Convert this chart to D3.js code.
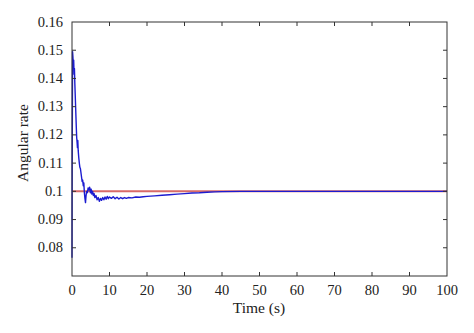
<!DOCTYPE html>
<html><head><meta charset="utf-8">
<script src="https://cdn.jsdelivr.net/npm/d3@7"></script>
<style>body{margin:0;background:#fff}svg{display:block}text{font-family:"Liberation Serif","DejaVu Serif",serif;fill:#222}</style>
</head><body><svg id="c" width="474" height="333"></svg>
<script>
const xTicks=[0,10,20,30,40,50,60,70,80,90,100];
const yTicks=[0.08,0.09,0.1,0.11,0.12,0.13,0.14,0.15,0.16];
const yTickLabels=["0.08","0.09","0.1","0.11","0.12","0.13","0.14","0.15","0.16"];
const refTime=[0,100];
const refValue=[0.1,0.1];
const time=[0,0.05,0.15,0.25,0.35,0.45,0.55,0.65,0.75,0.85,0.95,1.05,1.15,1.25,1.35,1.45,1.55,1.65,1.8,1.95,2.1,2.25,2.4,2.55,2.7,2.85,3.0,3.15,3.3,3.45,3.6,3.75,3.9,4.1,4.3,4.5,4.7,4.9,5.1,5.3,5.5,5.7,5.9,6.1,6.4,6.7,7.0,7.3,7.6,7.9,8.2,8.5,8.8,9.1,9.4,9.7,10,10.5,11,11.5,12,12.5,13,13.5,14,14.5,15,16,17,18,19,20,22,24,26,28,30,32,34,36,38,40,45,50,55,60,70,80,90,100];
const rate=[0.0765,0.110,0.1495,0.1475,0.1445,0.1465,0.1415,0.1435,0.1385,0.1345,0.1305,0.1265,0.1225,0.1190,0.1175,0.1155,0.1180,0.1145,0.1120,0.1100,0.1085,0.1080,0.1065,0.1050,0.1035,0.1040,0.1020,0.1030,0.0995,0.0975,0.0960,0.0985,0.1000,0.0995,0.1012,0.1005,0.1015,0.0995,0.1008,0.0990,0.1000,0.0985,0.0992,0.0978,0.0985,0.0970,0.0978,0.0965,0.0975,0.0968,0.0978,0.0970,0.0980,0.0972,0.0982,0.0974,0.0980,0.0975,0.0981,0.0974,0.0979,0.0973,0.0978,0.0974,0.0978,0.0975,0.0978,0.0977,0.0980,0.0979,0.0981,0.0982,0.0984,0.0986,0.0988,0.0990,0.0992,0.0994,0.0995,0.0997,0.0998,0.0999,0.1000,0.1000,0.1000,0.1000,0.1000,0.1000,0.1000,0.1000];

const svg=d3.select("#c");
const L=72,R=447,T=22,B=276;
const x=d3.scaleLinear().domain([0,100]).range([L,R]);
const y=d3.scaleLinear().domain([0.07,0.16]).range([B,T]);
const g=svg.append("g");
const line=d3.line().x(d=>x(d[0])).y(d=>y(d[1]));
g.append("path").datum(refTime.map((t,i)=>[t,refValue[i]])).attr("d",line)
 .attr("fill","none").attr("stroke","#d86a68").attr("stroke-width",2);
g.append("path").datum(time.map((t,i)=>[t,rate[i]])).attr("d",line)
 .attr("fill","none").attr("stroke","#1c1cd0").attr("stroke-width",1.4).attr("stroke-linejoin","round");

const ax=svg.append("g").attr("stroke","#333").attr("stroke-width",1);
ax.append("rect").attr("x",L).attr("y",T).attr("width",R-L).attr("height",B-T).attr("fill","none");
const tl=4;
xTicks.slice(1,-1).forEach(t=>{
  ax.append("line").attr("x1",x(t)).attr("x2",x(t)).attr("y1",B).attr("y2",B-tl);
  ax.append("line").attr("x1",x(t)).attr("x2",x(t)).attr("y1",T).attr("y2",T+tl);
});
yTicks.slice(0,-1).forEach(v=>{
  ax.append("line").attr("x1",L).attr("x2",L+tl).attr("y1",y(v)).attr("y2",y(v));
  ax.append("line").attr("x1",R).attr("x2",R-tl).attr("y1",y(v)).attr("y2",y(v));
});
xTicks.forEach(t=>{
  svg.append("text").attr("x",x(t)).attr("y",295).attr("text-anchor","middle").attr("font-size",14.5).text(t);
});
yTicks.forEach((v,i)=>{
  svg.append("text").attr("x",63).attr("y",y(v)+4.5).attr("text-anchor","end").attr("font-size",14.5).text(yTickLabels[i]);
});
svg.append("text").attr("x",259).attr("y",313).attr("text-anchor","middle").attr("font-size",15.5).text("Time (s)");
svg.append("text").attr("transform","translate(28,143) rotate(-90)").attr("text-anchor","middle").attr("font-size",15.5).text("Angular rate");
</script></body></html>
